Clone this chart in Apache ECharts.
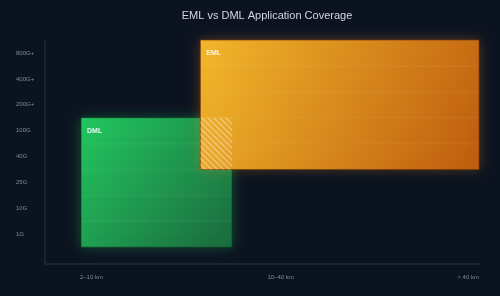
<!DOCTYPE html>
<html>
<head>
<meta charset="utf-8">
<script src="https://cdn.jsdelivr.net/npm/echarts@6/dist/echarts.min.js"></script>
<style>
  html, body { margin: 0; padding: 0; background: #0c1320; }
  #chart { width: 500px; height: 296px; }
</style>
</head>
<body>
<div id="chart"></div>
<script>
// speed classes on the y axis, bottom to top
var speeds = ['1G', '10G', '25G', '40G', '100G', '200G+', '400G+', '800G+'];
var speedTicks = [0, 1, 2, 3, 4, 5, 6, 7];
// reach classes on the x axis (x runs 0..100 along the axis)
var reachLabels = ['2–10 km', '10–40 km', '> 40 km'];
var reachTicks = [10.7, 54.3, 97.5];
// technologies: reach span [from, to] and speed span [first, last index]
var techNames = ['DML', 'EML'];
var techReach = [[8.3, 43.1], [35.8, 100]];
var techSpeeds = [[0, 4], [3, 7]];

// colours: [gradient start, gradient end, edge, glow]
var techColors = [
  ['#23c860', '#1b693d', 'rgba(10,60,30,0.6)', 'rgba(34,197,94,0.35)'],
  ['#f2b72b', '#be5c0e', 'rgba(120,60,10,0.7)', 'rgba(230,140,30,0.3)']
];

var techData = techNames.map(function(n, i) {
  return [techReach[i][0], techReach[i][1], techSpeeds[i][0], techSpeeds[i][1]];
});
var overlapData = [[
  Math.max(techReach[0][0], techReach[1][0]),
  Math.min(techReach[0][1], techReach[1][1]),
  Math.max(techSpeeds[0][0], techSpeeds[1][0]),
  Math.min(techSpeeds[0][1], techSpeeds[1][1])
]];

function hatch() {
  var c = document.createElement('canvas');
  c.width = 6; c.height = 6;
  var ctx = c.getContext('2d');
  ctx.strokeStyle = 'rgba(255,255,255,0.32)';
  ctx.lineWidth = 1.8;
  ctx.beginPath();
  ctx.moveTo(-1, -1); ctx.lineTo(7, 7);
  ctx.moveTo(-4, 2); ctx.lineTo(2, 8);
  ctx.moveTo(2, -4); ctx.lineTo(8, 2);
  ctx.stroke();
  return c;
}

function box(api) {
  var tl = api.coord([api.value(0), api.value(3) + 0.5]);
  var br = api.coord([api.value(1), api.value(2) - 0.5]);
  return { x: tl[0], y: tl[1], width: br[0] - tl[0], height: br[1] - tl[1] };
}

function renderTech(params, api) {
  var i = params.dataIndex;
  var b = box(api);
  var c = techColors[i];
  var rows = api.value(3) - api.value(2) + 1;
  var rowH = b.height / rows;
  var children = [{
    type: 'rect',
    shape: b,
    style: {
      fill: new echarts.graphic.LinearGradient(0, 0, 1, 1, [
        { offset: 0, color: c[0] },
        { offset: 1, color: c[1] }
      ]),
      stroke: c[2],
      lineWidth: 1,
      shadowBlur: 12,
      shadowColor: c[3]
    }
  }];
  // faint band at each speed row boundary
  for (var r = 1; r < rows; r++) {
    children.push({
      type: 'rect',
      shape: { x: b.x + 1, y: b.y + r * rowH - 1, width: b.width - 2, height: 2 },
      style: { fill: 'rgba(255,255,255,0.04)' }
    });
  }
  children.push({
    type: 'text',
    x: b.x + 6,
    y: b.y + 13,
    style: {
      text: techNames[i],
      fill: 'rgba(255,255,255,0.88)',
      font: 'bold 7px "Liberation Sans", Arial, sans-serif',
      verticalAlign: 'middle'
    }
  });
  return { type: 'group', children: children };
}

function renderOverlap(params, api) {
  var b = box(api);
  return {
    type: 'rect',
    shape: b,
    style: { fill: { image: hatch(), repeat: 'repeat' } }
  };
}

var chart = echarts.init(document.getElementById('chart'));
chart.setOption({
  backgroundColor: '#0c1320',
  animation: false,
  title: {
    text: 'EML vs DML Application Coverage',
    left: 262,
    top: 5,
    textAlign: 'center',
    textStyle: {
      color: '#cfd6e0',
      fontSize: 11,
      fontWeight: 'normal',
      fontFamily: '"Liberation Sans", Arial, sans-serif'
    }
  },
  grid: { left: 45, right: 21, top: 40, bottom: 32, outerBoundsMode: 'none' },
  xAxis: {
    type: 'value',
    min: 0,
    max: 100,
    axisLine: { show: true, onZero: false, lineStyle: { color: '#1f2a3b', width: 1.5 } },
    axisTick: { show: false },
    splitLine: { show: false },
    axisLabel: {
      customValues: reachTicks,
      margin: 10,
      color: '#7e899b',
      fontSize: 6,
      fontFamily: '"Liberation Sans", Arial, sans-serif',
      formatter: function(v) { return reachLabels[reachTicks.indexOf(v)]; }
    }
  },
  yAxis: {
    type: 'value',
    min: -1.15,
    max: 7.5,
    axisLine: { show: true, onZero: false, lineStyle: { color: '#1f2a3b', width: 1.5 } },
    axisTick: { show: false },
    splitLine: { show: false },
    axisLabel: {
      customValues: speedTicks,
      align: 'left',
      margin: 29,
      color: '#7e899b',
      fontSize: 6,
      fontFamily: '"Liberation Sans", Arial, sans-serif',
      formatter: function(v) { return speeds[v]; }
    }
  },
  series: [
    {
      type: 'custom',
      renderItem: renderTech,
      encode: { x: [0, 1], y: [2, 3] },
      data: techData,
      clip: false
    },
    {
      type: 'custom',
      renderItem: renderOverlap,
      encode: { x: [0, 1], y: [2, 3] },
      data: overlapData,
      clip: false
    }
  ]
});
</script>
</body>
</html>
